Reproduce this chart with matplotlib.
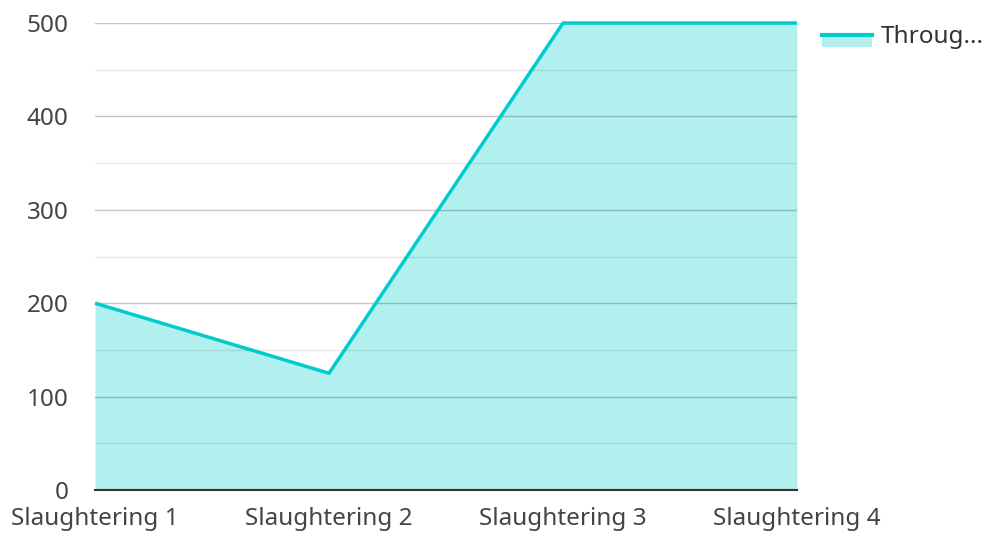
import matplotlib.pyplot as plt
from matplotlib.patches import Rectangle
from matplotlib.lines import Line2D

plt.rcParams['font.family'] = ['Noto Sans', 'DejaVu Sans']

categories = ['Slaughtering 1', 'Slaughtering 2', 'Slaughtering 3', 'Slaughtering 4']
throughput = [200, 125, 500, 500]
series_name = 'Throug...'

LINE = '#00cccc'
FILL = '#b2efef'

fig = plt.figure(figsize=(9.87, 5.33), dpi=100)
ax = fig.add_axes([0.0963, 0.0807, 0.7112, 0.8761])

x = range(len(categories))
ax.fill_between(x, 0, throughput, color=FILL, lw=0, zorder=1)
ax.plot(x, throughput, color=LINE, lw=2.5, zorder=3, solid_capstyle='butt', clip_on=False)

ax.set_xlim(0, len(categories) - 1)
ax.set_ylim(0, 500)
ax.set_yticks(range(0, 501, 100))
ax.set_yticks(range(50, 500, 100), minor=True)
ax.set_xticks(list(x))
ax.set_xticklabels(categories)

ax.grid(axis='y', which='major', color='black', alpha=0.22, lw=1, zorder=2)
ax.grid(axis='y', which='minor', color='black', alpha=0.09, lw=1, zorder=2)
ax.set_axisbelow(False)
for s in ['top', 'right', 'left']:
    ax.spines[s].set_visible(False)
ax.spines['bottom'].set_color('#333333')
ax.spines['bottom'].set_linewidth(1.5)
ax.spines['bottom'].set_zorder(4)

ax.tick_params(axis='both', which='both', length=0, labelsize=17.5, colors='#444444')
ax.tick_params(axis='y', pad=19)
ax.tick_params(axis='x', pad=12)

# legend drawn by hand: swatch with line on top
fig.patches.append(Rectangle((822 / 987, 1 - 47 / 533), 50 / 987, 13 / 533,
                             transform=fig.transFigure, color=FILL, lw=0))
fig.lines.append(Line2D([822 / 987, 872 / 987], [1 - 35 / 533, 1 - 35 / 533],
                        transform=fig.transFigure, color=LINE, lw=3))
fig.text(881 / 987, 1 - 37 / 533, series_name, fontsize=17.5, color='#333333', va='center')

fig.savefig('out.png', dpi=100)
